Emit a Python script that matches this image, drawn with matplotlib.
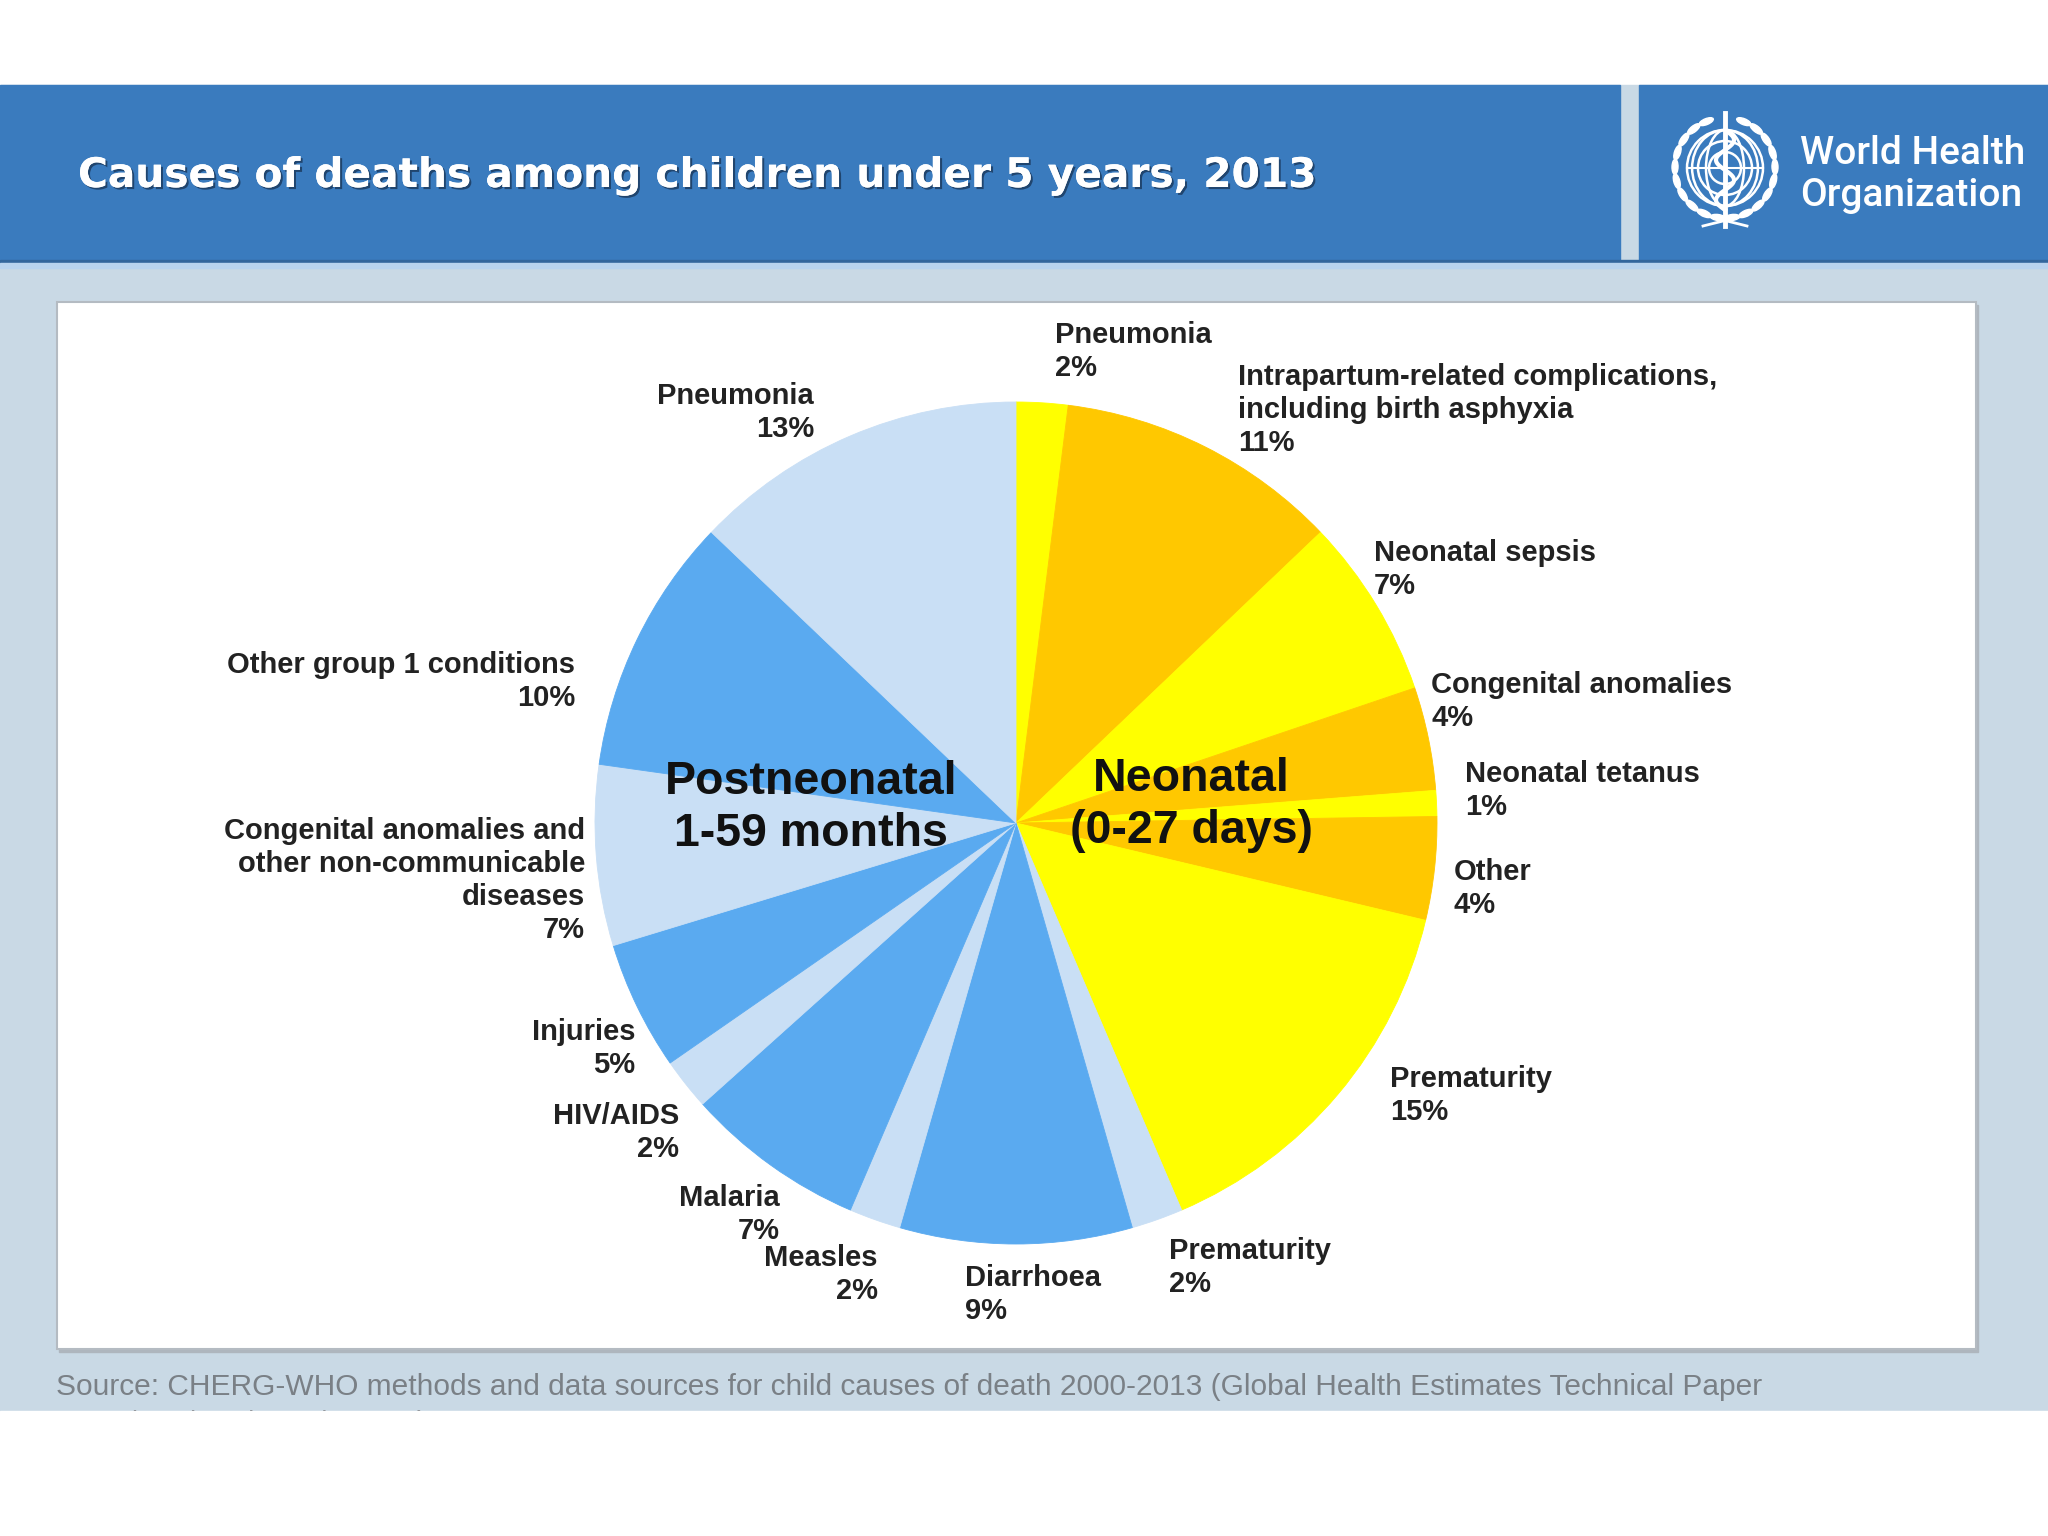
"""
plot.py
WHO chart: causes of deaths among children under 5 years, 2013.
"""

import matplotlib
matplotlib.use("Agg")
import matplotlib.pyplot as plt
import matplotlib.patches as mpatches
import matplotlib.patheffects as pe
import numpy as np

# data, clockwise from 12 o'clock
causes = ["Pneumonia", "Intrapartum-related complications,\nincluding birth asphyxia",
          "Neonatal sepsis", "Congenital anomalies", "Neonatal tetanus", "Other",
          "Prematurity",
          "Prematurity", "Diarrhoea", "Measles", "Malaria", "HIV/AIDS", "Injuries",
          "Congenital anomalies and\nother non-communicable\ndiseases",
          "Other group 1 conditions", "Pneumonia"]
shares = [2, 11, 7, 4, 1, 4, 15,
          2, 9, 2, 7, 2, 5, 7, 10, 13]
groups = ["neo"] * 7 + ["post"] * 9

title = "Causes of deaths among children under 5 years, 2013"
source = ("Source: CHERG-WHO methods and data sources for child causes of death 2000-2013 "
          "(Global Health Estimates Technical Paper")
source2 = "WHO/HIS/HSI/GHE/2014.6)"

# label placement (pixels: x, y of first line, alignment)
label_pos = [(1055, 333, "left"), (1238, 375, "left"), (1374, 551, "left"),
             (1431, 683, "left"), (1465, 772, "left"), (1454, 870, "left"),
             (1390, 1077, "left"), (1169, 1249, "left"), (965, 1276, "left"),
             (878, 1256, "right"), (780, 1196, "right"), (679, 1114, "right"),
             (635, 1030, "right"), (585, 829, "right"), (575, 663, "right"),
             (814, 394, "right")]

neo_cols = ["#FFFF00", "#FFC800"]
post_cols = ["#C9DFF5", "#5AAAF0"]
colors = []
n_neo = groups.count("neo")
for i, g in enumerate(groups):
    if g == "neo":
        colors.append(neo_cols[i % 2])
    else:
        colors.append(post_cols[(i - n_neo) % 2])

W, H = 2048, 1536
DPI = 100
fig = plt.figure(figsize=(W / DPI, H / DPI), dpi=DPI)
fig.patch.set_facecolor("white")

bg = fig.add_axes([0, 0, 1, 1])
bg.set_xlim(0, W)
bg.set_ylim(H, 0)
bg.axis("off")

# page background and header
bg.add_patch(mpatches.Rectangle((0, 85), W, 1411 - 85, color="#C9D9E5", zorder=0))
bg.add_patch(mpatches.Rectangle((0, 85), 1620, 178, color="#3A7BBE", zorder=1))
bg.add_patch(mpatches.Rectangle((1639, 85), W - 1639, 178, color="#3A7BBE", zorder=1))
bg.add_patch(mpatches.Rectangle((0, 260), W, 3, color="#33669C", zorder=1))
bg.add_patch(mpatches.Rectangle((0, 263), W, 5, color="#B9D3EE", zorder=1))

bg.text(78, 176, title, color="white", fontsize=29.3, fontweight="bold",
        family="DejaVu Sans", va="center", ha="left", zorder=3,
        path_effects=[pe.withSimplePatchShadow(offset=(1.5, -1.5), shadow_rgbFace="#1E3F66",
                                               alpha=0.9), pe.Normal()])

# WHO emblem, simplified
cx, cy = 1725, 168
ring = dict(fill=False, ec="white", lw=1.8, zorder=3)
for r in (38, 27, 16):
    bg.add_patch(mpatches.Circle((cx, cy), r, **ring))
for th in (30, 60):
    bg.add_patch(mpatches.Ellipse((cx, cy), 76 * np.cos(np.radians(th)), 76, **ring))
bg.plot([cx - 38, cx + 38], [cy, cy], color="white", lw=1.5, zorder=3)
bg.plot([cx, cx], [cy - 55, cy + 58], color="white", lw=3.5, zorder=4)
t = np.linspace(0, 1, 80)
bg.plot(cx + 9 * np.sin(t * 4 * np.pi), cy - 38 + 80 * t, color="white", lw=3, zorder=4)
for a0, a1 in ((112, 262), (-82, 68)):
    for a in np.radians(np.linspace(a0, a1, 10)):
        bg.add_patch(mpatches.Ellipse((cx + 50 * np.cos(a), cy - 50 * np.sin(a)), 15, 6,
                                      angle=-(np.degrees(a) + 90), color="white", zorder=3))
bg.plot([cx - 22, cx + 22], [cy + 58, cy + 47], color="white", lw=2, zorder=3)
bg.plot([cx - 22, cx + 22], [cy + 47, cy + 58], color="white", lw=2, zorder=3)

bg.text(1800, 154, "World Health", color="white", fontsize=28, family="Roboto",
        fontweight="medium", va="center", ha="left", zorder=3)
bg.text(1800, 195, "Organization", color="white", fontsize=28, family="Roboto",
        fontweight="medium", va="center", ha="left", zorder=3)

# chart panel
bg.add_patch(mpatches.Rectangle((59, 305), 1919, 1047, color="#AEB6BE", zorder=1))
bg.add_patch(mpatches.Rectangle((57, 302), 1919, 1047, fc="white", ec="#B4BBC2",
                                lw=1.5, zorder=2))

# source (second line cut off by the white page bottom)
bg.text(56, 1387, source, color="#7A8086", fontsize=21.5, family="Liberation Sans",
        va="center", ha="left", zorder=3)
bg.text(56, 1424, source2, color="#7A8086", fontsize=21.5, family="Liberation Sans",
        va="center", ha="left", zorder=3)
bg.add_patch(mpatches.Rectangle((0, 1411), W, H - 1411, color="white", zorder=4))

# pie
cxp, cyp, R = 1016, 823, 421
ax = fig.add_axes([(cxp - R) / W, (H - cyp - R) / H, 2 * R / W, 2 * R / H])
ax.set_zorder(5)
wedges, _ = ax.pie(shares, colors=colors, startangle=90, counterclock=False,
                   radius=1.0, wedgeprops=dict(linewidth=0.6, antialiased=True))
for w, c in zip(wedges, colors):
    w.set_edgecolor(c)
ax.set_xlim(-1, 1)
ax.set_ylim(-1, 1)
ax.set_aspect("equal")
ax.axis("off")
ax.patch.set_alpha(0)

# slice labels
for name, val, (x, y, ha) in zip(causes, shares, label_pos):
    bg.text(x, y - 12, f"{name}\n{val}%", color="#222222", fontsize=21,
            fontweight="bold", family="Liberation Sans", ha=ha, va="top",
            multialignment=ha, linespacing=1.22, zorder=6)

# group labels
fig.text(811 / W, 1 - 808 / H, "Postneonatal\n1-59 months", fontsize=33.5,
         fontweight="bold", family="Liberation Sans", ha="center", va="center",
         color="#111111", linespacing=1.24, zorder=10)
fig.text(1191 / W, 1 - 805 / H, "Neonatal\n(0-27 days)", fontsize=33.5,
         fontweight="bold", family="Liberation Sans", ha="center", va="center",
         color="#111111", linespacing=1.24, zorder=10)

fig.savefig("out.png", dpi=DPI)
